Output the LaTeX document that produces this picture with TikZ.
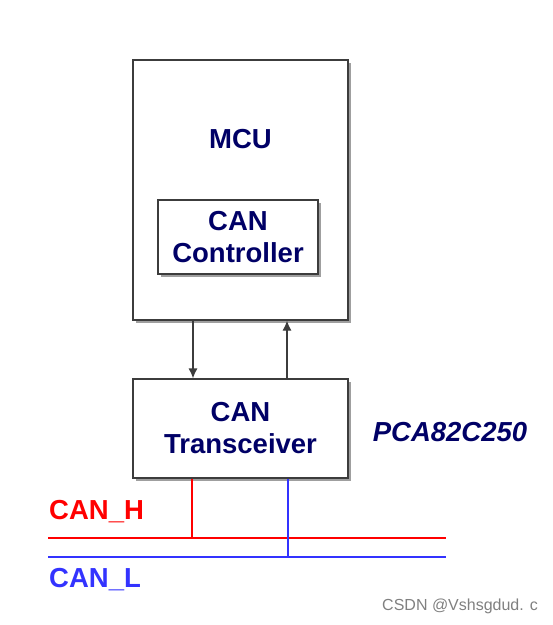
\documentclass[tikz,border=0pt]{standalone}
\usepackage{fontspec}
\setmainfont{Liberation Sans}
\usepackage{tikz}
\usetikzlibrary{shapes,arrows,arrows.meta,shadows}
\definecolor{ink}{RGB}{0,0,102}
\definecolor{edge}{RGB}{60,60,60}
\definecolor{busH}{RGB}{255,0,0}
\definecolor{busL}{RGB}{51,51,255}
\tikzstyle{block} = [rectangle, draw=edge, line width=1.2pt, fill=white, inner sep=0pt, text=ink, align=center, font=\fontsize{27.5}{32}\selectfont\bfseries, drop shadow={shadow xshift=2.5pt, shadow yshift=-2.5pt, fill=gray!75, opacity=1}]
\tikzstyle{title} = [text=ink, font=\fontsize{27.5}{32}\selectfont\bfseries]
\tikzstyle{line} = [draw=edge, line width=1.2pt, -{Latex[length=10pt,width=9pt]}]
\tikzstyle{wire} = [line width=1.6pt]

\begin{document}
\begin{tikzpicture}[x=1pt, y=-1pt]
    \useasboundingbox (0,0) rectangle (553,625);
    \node [block, minimum width=215pt, minimum height=260pt] (mcu) at (240.5,190) {};
    \node [title] (mcuText) at (240.5,139) {MCU};
    \node [block, minimum width=160pt, minimum height=74pt] (canController) at (238,237) {CAN\\Controller};
    \node [block, minimum width=215pt, minimum height=99pt] (transceiver) at (240.5,428.5) {CAN\\Transceiver};
    \node [title, font=\fontsize{27.5}{32}\selectfont\bfseries\itshape] (chipName) at (450,432) {PCA82C250};
    \node [title, text=busH, anchor=west, inner sep=0pt] (canHLabel) at (49,512) {CAN\_H};
    \node [title, text=busL, anchor=west, inner sep=0pt] (canLLabel) at (49,580) {CAN\_L};
    \node [text=gray, anchor=east, inner sep=0pt, font=\fontsize{16}{18}\selectfont] (mark) at (538,606) {CSDN @Vshsgdud. c};
    \coordinate (canHStart) at (48,538);
    \coordinate (canHEnd) at (446,538);
    \coordinate (canLStart) at (48,557);
    \coordinate (canLEnd) at (446,557);
    \coordinate (canHTap) at (192,538);
    \coordinate (canLTap) at (288,557);
    \path [line] ([xshift=-47.5pt]mcu.south) -- ([xshift=-47.5pt]transceiver.north);
    \path [line] ([xshift=46.5pt]transceiver.north) -- ([xshift=46.5pt]mcu.south);
    \draw [wire, busH] (canHStart) -- (canHEnd);
    \draw [wire, busL] (canLStart) -- (canLEnd);
    \draw [wire, busH] (transceiver.south -| canHTap) -- (canHTap);
    \draw [wire, busL] (transceiver.south -| canLTap) -- (canLTap);
\end{tikzpicture}
\end{document}
